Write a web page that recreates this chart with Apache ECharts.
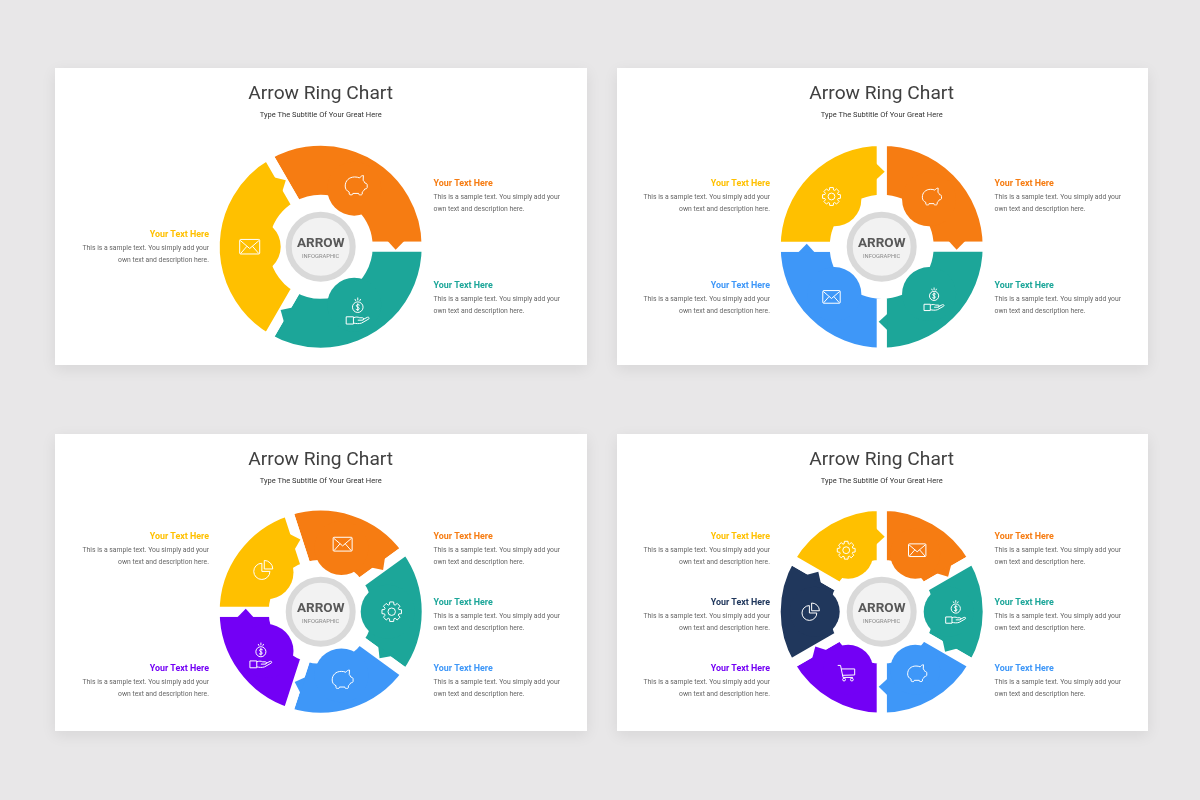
<!DOCTYPE html>
<html>
<head>
<meta charset="utf-8">
<style>html,body{margin:0;padding:0;background:#e8e7e8}#main{width:1200px;height:800px}</style>
<script src="https://cdn.jsdelivr.net/npm/echarts@6/dist/echarts.min.js"></script>
</head>
<body>
<div id="main"></div>
<script>
// slice shares of each ring, clockwise from the first gap
var sharesA = [1, 1, 1];
var sharesB = [1, 1, 1, 1];
var sharesC = [1, 1, 1, 1, 1];
var sharesD = [1, 1, 1, 1, 1, 1];
var startAngles = [120, 90, 108, 90];

var ORANGE = '#f67c12', TEAL = '#1ca699', BLUE = '#3e97f8', PURPLE = '#7300f5', NAVY = '#20375c', YELLOW = '#ffc000';
var colorsA = [ORANGE, TEAL, YELLOW];
var colorsB = [ORANGE, TEAL, BLUE, YELLOW];
var colorsC = [ORANGE, TEAL, BLUE, PURPLE, YELLOW];
var colorsD = [ORANGE, TEAL, BLUE, PURPLE, NAVY, YELLOW];

var iconsA = ['pig', 'hand', 'mail'];
var iconsB = ['pig', 'hand', 'mail', 'gear'];
var iconsC = ['mail', 'gear', 'pig', 'hand', 'pie'];
var iconsD = ['mail', 'hand', 'pig', 'cart', 'pie', 'gear'];

var chartTitle = 'Arrow Ring Chart';
var chartSubtitle = 'Type The Subtitle Of Your Great Here';
var centerTitle = 'ARROW';
var centerSubtitle = 'INFOGRAPHIC';
var labelTitle = 'Your Text Here';
var labelLine1 = 'This is a sample text. You simply add your';
var labelLine2 = 'own text and description here.';

// which side each slice's note sits on, and its row inside the card
var sidesA = [1, 1, -1];
var sidesB = [1, 1, -1, -1];
var sidesC = [1, 1, 1, -1, -1];
var sidesD = [1, 1, 1, -1, -1, -1];
var rowsA = [115, 217, 166];
var rowsB = [115, 217, 217, 115];
var rowsC = [102, 168, 234, 234, 102];
var rowsD = [102, 168, 234, 234, 168, 102];

var allShares = [sharesA, sharesB, sharesC, sharesD];
var allColors = [colorsA, colorsB, colorsC, colorsD];
var allIcons = [iconsA, iconsB, iconsC, iconsD];
var allSides = [sidesA, sidesB, sidesC, sidesD];
var allRows = [rowsA, rowsB, rowsC, rowsD];

// layout
var cards = [[55, 68, 532, 297], [617, 68, 531, 297], [55, 434, 532, 297], [617, 434, 531, 297]];
var centers = [[320.7, 246.7], [881.7, 246.7], [320.7, 611.7], [881.7, 611.7]];
var iconScale = [1, 0.87, 0.95, 0.87];
var OUTER = 101, INNER = 52, GAP = 10, BUMP_DIST = 67, BUMP_R = 27, ICON_DIST = 71;

function gearPath() {
    var d = '', teeth = 8, i;
    for (i = 0; i < teeth; i++) {
        var a = i / teeth * Math.PI * 2;
        var pts = [[-0.3, 9], [-0.2, 12], [0.2, 12], [0.3, 9]];
        pts.forEach(function (p, j) {
            var x = 12 + p[1] * Math.cos(a + p[0]), y = 12 + p[1] * Math.sin(a + p[0]);
            d += (i === 0 && j === 0 ? 'M' : 'L') + x.toFixed(2) + ' ' + y.toFixed(2);
        });
    }
    return d + 'Z M16.5 12A4.5 4.5 0 1 1 7.5 12A4.5 4.5 0 1 1 16.5 12Z';
}

var iconPaths = {
    mail: { w: 20, h: 16, dist: ICON_DIST, d: 'M2 4H22Q23 4 23 5V19Q23 20 22 20H2Q1 20 1 19V5Q1 4 2 4Z M1.5 5L12 14L22.5 5 M2 19.5L9 11.5 M22 19.5L15 11.5' },
    pig: { w: 22, h: 20, dist: ICON_DIST, d: 'M1 12.5C1 7 5 3 11 3C13 3 14.5 3.3 16 4C17 2.5 18.5 1.5 20 1.5L19.8 6.5C20.8 7.5 21.3 8.5 21.7 9.5C23 9.5 24 10 24 11.5V14C24 15 23 15.5 21.5 15.5C21 17 19.8 18 18.8 18.8V21C18.8 22 15 22 15 21V20.2H9V21C9 22 5.2 22 5.2 21V18.8C2.5 17.5 1 15.5 1 12.5Z' },
    hand: { w: 23, h: 27, dist: 74, d: 'M12 0V3 M9 1.5L10 3.5 M15 1.5L14 3.5 M17.5 10A5.5 5.5 0 1 1 6.5 10A5.5 5.5 0 1 1 17.5 10Z M14 8C13 7 10.5 7 10.5 8.5C10.5 10 13.5 10 13.5 11.5C13.5 13 11 13 10 12 M12 6V14 M0 20H7.5V27.5H0Z M7.5 21C10 20 12 20 14 21H17C18.5 21 18.5 23.5 17 23.5H12 M17 23L22 20.5C24 20 24.5 22 23 22.5L16 26.5C13 27.5 10 27 7.5 26.5' },
    gear: { w: 20.5, h: 20.5, dist: ICON_DIST, d: gearPath() },
    pie: { w: 20, h: 20, dist: ICON_DIST, d: 'M10 3.5A10 10 0 1 0 20 13.5H10Z M13 0V10.5H23.5A10.5 10.5 0 0 0 13 0Z' },
    cart: { w: 19.5, h: 19.5, dist: ICON_DIST, d: 'M0 1H4L7.5 18H21.5 M5 6H24V14.5L6.8 15 M11 21A2 2 0 1 1 7 21A2 2 0 1 1 11 21Z M22 21A2 2 0 1 1 18 21A2 2 0 1 1 22 21Z' }
};

// one datum per slice: the clockwise end angle and the mid angle, taken from the shares
function sliceAngles(shares, start) {
    var total = shares.reduce(function (a, b) { return a + b; }, 0);
    var cur = start, out = [];
    shares.forEach(function (v) {
        var sweep = v / total * 360;
        out.push({ mid: cur - sweep / 2, end: cur - sweep });
        cur -= sweep;
    });
    return out;
}

function deg(a) { return a * 180 / Math.PI; }

function makeOverlay(ringIndex) {
    var angles = sliceAngles(allShares[ringIndex], startAngles[ringIndex]);
    return {
        type: 'custom',
        coordinateSystem: 'polar',
        polarIndex: ringIndex,
        z: 3,
        silent: true,
        animation: false,
        data: angles.map(function (a) { return [ICON_DIST, a.mid, a.end]; }),
        renderItem: function (params, api) {
            var i = params.dataIndex;
            var mid = api.value(1), end = api.value(2);
            var color = allColors[ringIndex][i];
            var bump = api.coord([BUMP_DIST, mid]);
            var icon = iconPaths[allIcons[ringIndex][i]];
            var scale = iconScale[ringIndex];
            var ic = api.coord([icon.dist, mid]);
            var w = icon.w * scale, h = icon.h * scale;
            // arrow head: its base sits just inside the slice edge, its tip crosses the gap
            var inset = GAP / 2 + 1;
            var base1 = api.coord([84, end + deg(Math.asin(inset / 84))]);
            var base2 = api.coord([67, end + deg(Math.asin(inset / 67))]);
            var tip = api.coord([75, end - deg(Math.asin(3 / 75))]);
            return {
                type: 'group',
                children: [
                    { type: 'circle', shape: { cx: bump[0], cy: bump[1], r: ringIndex === 3 ? BUMP_R - 2 : BUMP_R }, style: { fill: color } },
                    { type: 'polygon', shape: { points: [base1, tip, base2] }, style: { fill: color } },
                    {
                        type: 'path',
                        shape: { pathData: icon.d, layout: 'center', x: ic[0] - w / 2, y: ic[1] - h / 2, width: w, height: h },
                        style: { fill: null, stroke: '#fff', lineWidth: 1 }
                    }
                ]
            };
        }
    };
}

var series = [], polar = [], angleAxis = [], radiusAxis = [], graphic = [];

cards.forEach(function (card, n) {
    var c = centers[n];
    graphic.push({
        type: 'rect', z: 0, silent: true,
        shape: { x: card[0], y: card[1], width: card[2], height: card[3] },
        style: { fill: '#fff', shadowBlur: 14, shadowOffsetY: 4, shadowColor: 'rgba(0,0,0,0.08)' }
    });
    graphic.push({ type: 'text', z: 10, style: { x: c[0], y: card[1] + 26, text: chartTitle, align: 'center', verticalAlign: 'middle', font: '400 19.2px Roboto', fill: '#404040' } });
    graphic.push({ type: 'text', z: 10, style: { x: c[0], y: card[1] + 47, text: chartSubtitle, align: 'center', verticalAlign: 'middle', font: '400 7.5px Roboto', fill: '#333' } });

    // centre disc
    graphic.push({ type: 'circle', z: 10, shape: { cx: c[0], cy: c[1], r: 32 }, style: { fill: '#f2f2f2', stroke: '#d9d9d9', lineWidth: 6 } });
    graphic.push({ type: 'text', z: 11, style: { x: c[0], y: c[1] - 3.5, text: centerTitle, align: 'center', verticalAlign: 'middle', font: '700 13.5px Roboto', fill: '#595959' } });
    graphic.push({ type: 'text', z: 11, style: { x: c[0], y: c[1] + 9.5, text: centerSubtitle, align: 'center', verticalAlign: 'middle', font: '400 5.8px Roboto', fill: '#8a8a8a' } });

    // notes beside the ring
    allSides[n].forEach(function (side, i) {
        var x = side > 0 ? c[0] + 112.8 : c[0] - 111.7;
        var y = card[1] + allRows[n][i] + 1;
        var align = side > 0 ? 'left' : 'right';
        graphic.push({ type: 'text', z: 10, style: { x: x, y: y, text: labelTitle, align: align, verticalAlign: 'middle', font: '700 8.9px Roboto', fill: allColors[n][i] } });
        graphic.push({ type: 'text', z: 10, style: { x: x, y: y + 13, text: labelLine1, align: align, verticalAlign: 'middle', font: '400 6.8px Roboto', fill: '#666' } });
        graphic.push({ type: 'text', z: 10, style: { x: x, y: y + 25, text: labelLine2, align: align, verticalAlign: 'middle', font: '400 6.8px Roboto', fill: '#666' } });
    });

    polar.push({ center: c, radius: [0, OUTER] });
    angleAxis.push({ polarIndex: n, type: 'value', min: 0, max: 360, startAngle: 0, clockwise: false, show: false });
    radiusAxis.push({ polarIndex: n, type: 'value', min: 0, max: OUTER, show: false });

    // white border leaves the parallel gaps between slices
    series.push({
        type: 'pie',
        center: c,
        radius: [INNER - GAP / 2, OUTER + GAP / 2],
        startAngle: startAngles[n],
        silent: true,
        animation: false,
        label: { show: false },
        labelLine: { show: false },
        itemStyle: { borderColor: '#fff', borderWidth: GAP },
        z: 2,
        data: allShares[n].map(function (v, i) {
            return { value: v, itemStyle: { color: allColors[n][i] } };
        })
    });
    series.push(makeOverlay(n));
});

var myChart = echarts.init(document.getElementById('main'), null, { renderer: 'canvas' });
myChart.setOption({
    backgroundColor: '#e8e7e8',
    animation: false,
    polar: polar,
    angleAxis: angleAxis,
    radiusAxis: radiusAxis,
    series: series,
    graphic: { elements: graphic }
});
</script>
</body>
</html>
